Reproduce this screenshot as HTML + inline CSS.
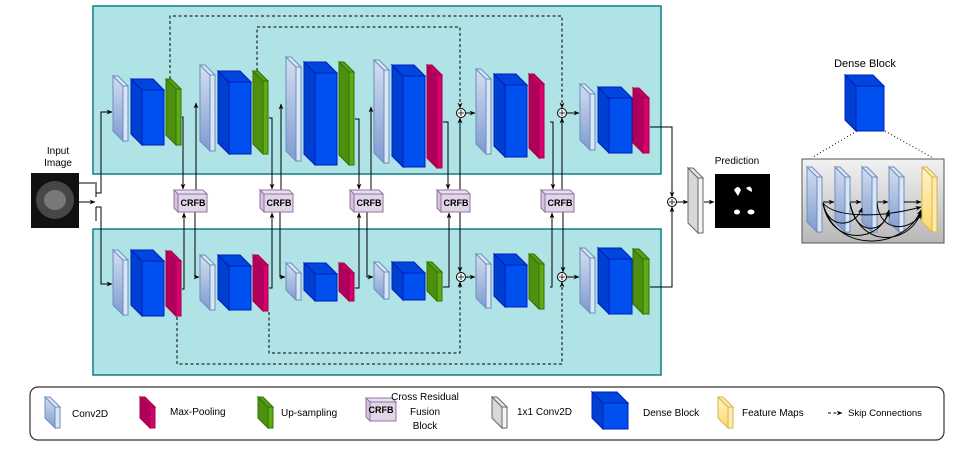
<!DOCTYPE html>
<html><head><meta charset="utf-8"><style>
html,body{margin:0;padding:0;background:#fff;}
svg{display:block;font-family:"Liberation Sans",sans-serif;}
</style></head><body>
<svg id="s" width="969" height="449" viewBox="0 0 969 449" xmlns="http://www.w3.org/2000/svg">
<defs>
<linearGradient id="gc" x1="0" y1="0" x2="0" y2="1"><stop offset="0" stop-color="#d4deef"/><stop offset="1" stop-color="#7e9bd0"/></linearGradient>
<linearGradient id="gy" x1="0" y1="0" x2="0" y2="1"><stop offset="0" stop-color="#fff2cc"/><stop offset="1" stop-color="#ffd966"/></linearGradient>
<linearGradient id="gp" x1="0" y1="0" x2="0" y2="1"><stop offset="0" stop-color="#f2f2f2"/><stop offset="1" stop-color="#b8b8b8"/></linearGradient>
<marker id="a" viewBox="0 0 10 10" refX="9" refY="5" markerWidth="6" markerHeight="6" orient="auto"><path d="M0,1 L10,5 L0,9 L3,5z" fill="#000"/></marker>
</defs>
<rect x="93" y="6" width="568" height="168" fill="#b0e3e6" stroke="#0e8088" stroke-width="1.5"/>
<rect x="93" y="229" width="568" height="146" fill="#b0e3e6" stroke="#0e8088" stroke-width="1.5"/>
<rect x="802" y="159" width="142" height="84" fill="url(#gp)" stroke="#555"/>
<rect x="30" y="387" width="914" height="53" rx="8" fill="#fff" stroke="#333" stroke-width="1.2"/>
<g id="lines" fill="none" stroke="#000" stroke-width="1"></g>
<g id="shapes"></g>
<g id="curves" fill="none" stroke="#000" stroke-width="1"></g>
<g font-size="10" fill="#000">
<text x="58" y="154" text-anchor="middle">Input</text>
<text x="58" y="166" text-anchor="middle">Image</text>
<text x="737" y="164" text-anchor="middle">Prediction</text>
<text x="865" y="67" text-anchor="middle" font-size="11">Dense Block</text>
<text x="72" y="417">Conv2D</text>
<text x="170" y="415">Max-Pooling</text>
<text x="281" y="416">Up-sampling</text>
<text x="425" y="400" text-anchor="middle">Cross Residual</text>
<text x="425" y="415" text-anchor="middle">Fusion</text>
<text x="425" y="429" text-anchor="middle">Block</text>
<text x="517" y="415">1x1 Conv2D</text>
<text x="643" y="416">Dense Block</text>
<text x="742" y="416">Feature Maps</text>
<text x="848" y="416" font-size="9.5">Skip Connections</text>
</g>
<g id="crfbt" font-size="9" font-weight="bold" text-anchor="middle"></g>
<rect x="31" y="173" width="48" height="55" fill="#111"/>
<ellipse cx="55" cy="200" rx="19" ry="19" fill="#555" opacity="0.8"/>
<ellipse cx="55" cy="200" rx="11" ry="10" fill="#999" opacity="0.6"/>
<rect x="715" y="174" width="55" height="54" fill="#000"/>
<path d="M734,190 q4,-6 7,0 l-3,6z M746,188 q6,-4 6,4 l-4,-2z" fill="#fff"/>
<ellipse cx="737" cy="212" rx="3" ry="2.5" fill="#fff"/><ellipse cx="751" cy="212" rx="3.5" ry="2.5" fill="#fff"/>
</svg>
<script>
const NS="http://www.w3.org/2000/svg";
const S=document.getElementById('shapes'),L=document.getElementById('lines'),CV=document.getElementById('curves');
function el(p,t,a){const e=document.createElementNS(NS,t);for(const k in a)e.setAttribute(k,a[k]);p.appendChild(e);return e;}
const C={c:['url(#gc)','#c7d5ee','#dae6f7','#6c8ebf'],b:['#0050ef','#0040d0','#0046dd','#001dbc'],r:['#d80073','#b0005e','#c4006a','#a50040'],g:['#60a917','#4e8f10','#57a014','#2d7600'],w:['#f5f5f5','#d8d8d8','#e8e8e8','#666'],y:['url(#gy)','#fff0c0','#ffe8a8','#d6b656'],p:['#e1d5e7','#d4c2de','#e9def0','#9673a6']};
function box(x,y,w,h,d,k){const c=C[k];
 el(S,'polygon',{points:`${x},${y} ${x+d},${y+d} ${x+d},${y+d+h} ${x},${y+h}`,fill:k=='c'||k=='y'?c[0]:c[1],stroke:c[3],'stroke-width':1});
 el(S,'polygon',{points:`${x},${y} ${x+w},${y} ${x+w+d},${y+d} ${x+d},${y+d}`,fill:c[2],stroke:c[3],'stroke-width':1});
 el(S,'rect',{x:x+d,y:y+d,width:w,height:h,fill:k=='c'||k=='y'?c[2]:c[0],stroke:c[3],'stroke-width':1});}
[[113,76,5,55,'c'],[131,79,22,55,'b'],[166,79,5,56,'g'],
 [200,65,5,76,'c'],[218,71,22,72,'b'],[253,71,5,73,'g'],
 [286,57,5,94,'c'],[304,62,22,92,'b'],[339,62,5,93,'g'],
 [374,60,5,93,'c'],[392,65,22,91,'b'],[427,65,5,93,'r'],
 [476,69,5,75,'c'],[494,74,22,72,'b'],[529,74,5,74,'r'],
 [580,84,5,56,'c'],[598,87,23,55,'b'],[633,88,6,55,'r'],
 [113,250,5,55,'c'],[131,250,22,55,'b'],[166,251,5,55,'r'],
 [200,255,5,45,'c'],[218,255,22,44,'b'],[253,255,5,46,'r'],
 [286,263,5,27,'c'],[304,263,22,27,'b'],[339,263,5,28,'r'],
 [374,262,5,27,'c'],[392,262,22,27,'b'],[427,262,5,29,'g'],
 [476,254,5,44,'c'],[494,254,22,42,'b'],[529,254,5,45,'g'],
 [580,248,5,55,'c'],[598,248,23,55,'b'],[633,249,6,55,'g'],
 [688,168,5,55,'w'],[845,75,28,45,'b'],
 [807,167,5,55,'c'],[835,167,5,55,'c'],[862,167,5,55,'c'],[889,167,5,55,'c'],[922,167,5,55,'y'],
 [45,397,5,21,'c'],[140,397,5,21,'r'],[258,397,5,21,'g'],[492,397,5,21,'w'],[592,392,25,26,'b'],[718,397,5,21,'y']
].forEach(b=>box(b[0],b[1],b[2],b[3],b[4]=='b'?11:10,b[4]));
const CT=document.getElementById('crfbt');
[191,277,367,454,558].forEach(cx=>{box(cx-17,190,29,18,4,'p');el(CT,'text',{x:cx+2,y:206}).textContent='CRFB';});
box(366,398,26,19,4,'p');el(CT,'text',{x:381,y:413}).textContent='CRFB';
function ln(d,arr,dash,p){el(p||L,'path',{d:d,'marker-end':arr?'url(#a)':'','stroke-dasharray':dash?'3,2.5':''});}
ln('M79,183 L95,183',0);
ln('M79,202 L95,202',1);
ln('M96,182 L96,197 M96,207 L96,221',0);
ln('M96,193 L101,193 L101,112 L112,112',1);
ln('M96,207 L101,207 L101,284 L112,284',1);
[[182,117,183],[269,118,272],[355,119,359],[443,122,448],[550,122,553]].forEach(p=>ln(`M${p[0]},${p[1]} L${p[2]},${p[1]} L${p[2]},189`,1));
ln('M196,190 L196,103',1);ln('M281,190 L281,104',1);ln('M371,190 L371,107',1);
ln('M460,190 L460,118',1);ln('M562,190 L562,118',1);
[[182,289,184],[269,288,272],[355,288,359],[443,287,449],[550,287,552]].forEach(p=>ln(`M${p[0]},${p[1]} L${p[2]},${p[1]} L${p[2]},213`,1));
ln('M195,212 L195,277 L199,277',1);ln('M280,212 L280,277 L285,277',1);ln('M367,212 L367,277 L373,277',1);
ln('M460,212 L460,272',1);ln('M563,212 L563,272',1);
ln('M465,113 L475,113',1);ln('M566,113 L579,113',1);ln('M465,277 L475,277',1);ln('M566,277 L579,277',1);
ln('M170,79 L170,16 L562,16 L562,108',1,1);
ln('M257,71 L257,27 L460,27 L460,108',1,1);
ln('M177,317 L177,364 L562,364 L562,282',1,1);
ln('M269,312 L269,353 L460,353 L460,282',1,1);
ln('M650,127 L672,127 L672,197',1);ln('M650,287 L672,287 L672,207',1);
ln('M676,202 L688,202',1);ln('M704,202 L714,202',1);
ln('M828,413 L842,413',1,1);
el(L,'path',{d:'M857,131 L813,157 M885,131 L933,158','stroke-dasharray':'1,2.5'});
ln('M823,202 L834,202',1,0,CV);ln('M850,202 L861,202',1,0,CV);ln('M877,202 L888,202',1,0,CV);ln('M904,202 L921,202',1,0,CV);
ln('M823,203 C828,230 855,228 862,208',1,0,CV);
ln('M823,203 C830,245 880,245 889,210',1,0,CV);
ln('M823,203 C835,255 905,250 921,210',1,0,CV);
ln('M823,203 C835,218 880,218 921,207',1,0,CV);
ln('M850,203 C855,235 882,235 889,212',1,0,CV);
ln('M850,203 C860,250 910,245 921,212',1,0,CV);
ln('M877,203 C880,235 912,230 921,214',1,0,CV);
[[461,113],[562,113],[461,277],[562,277],[672,202]].forEach(p=>{el(S,'circle',{cx:p[0],cy:p[1],r:4.5,fill:'#fff',stroke:'#000'});el(S,'path',{d:`M${p[0]-3},${p[1]} h6 M${p[0]},${p[1]-3} v6`,stroke:'#000','stroke-width':0.8});});
</script>
</body></html>
